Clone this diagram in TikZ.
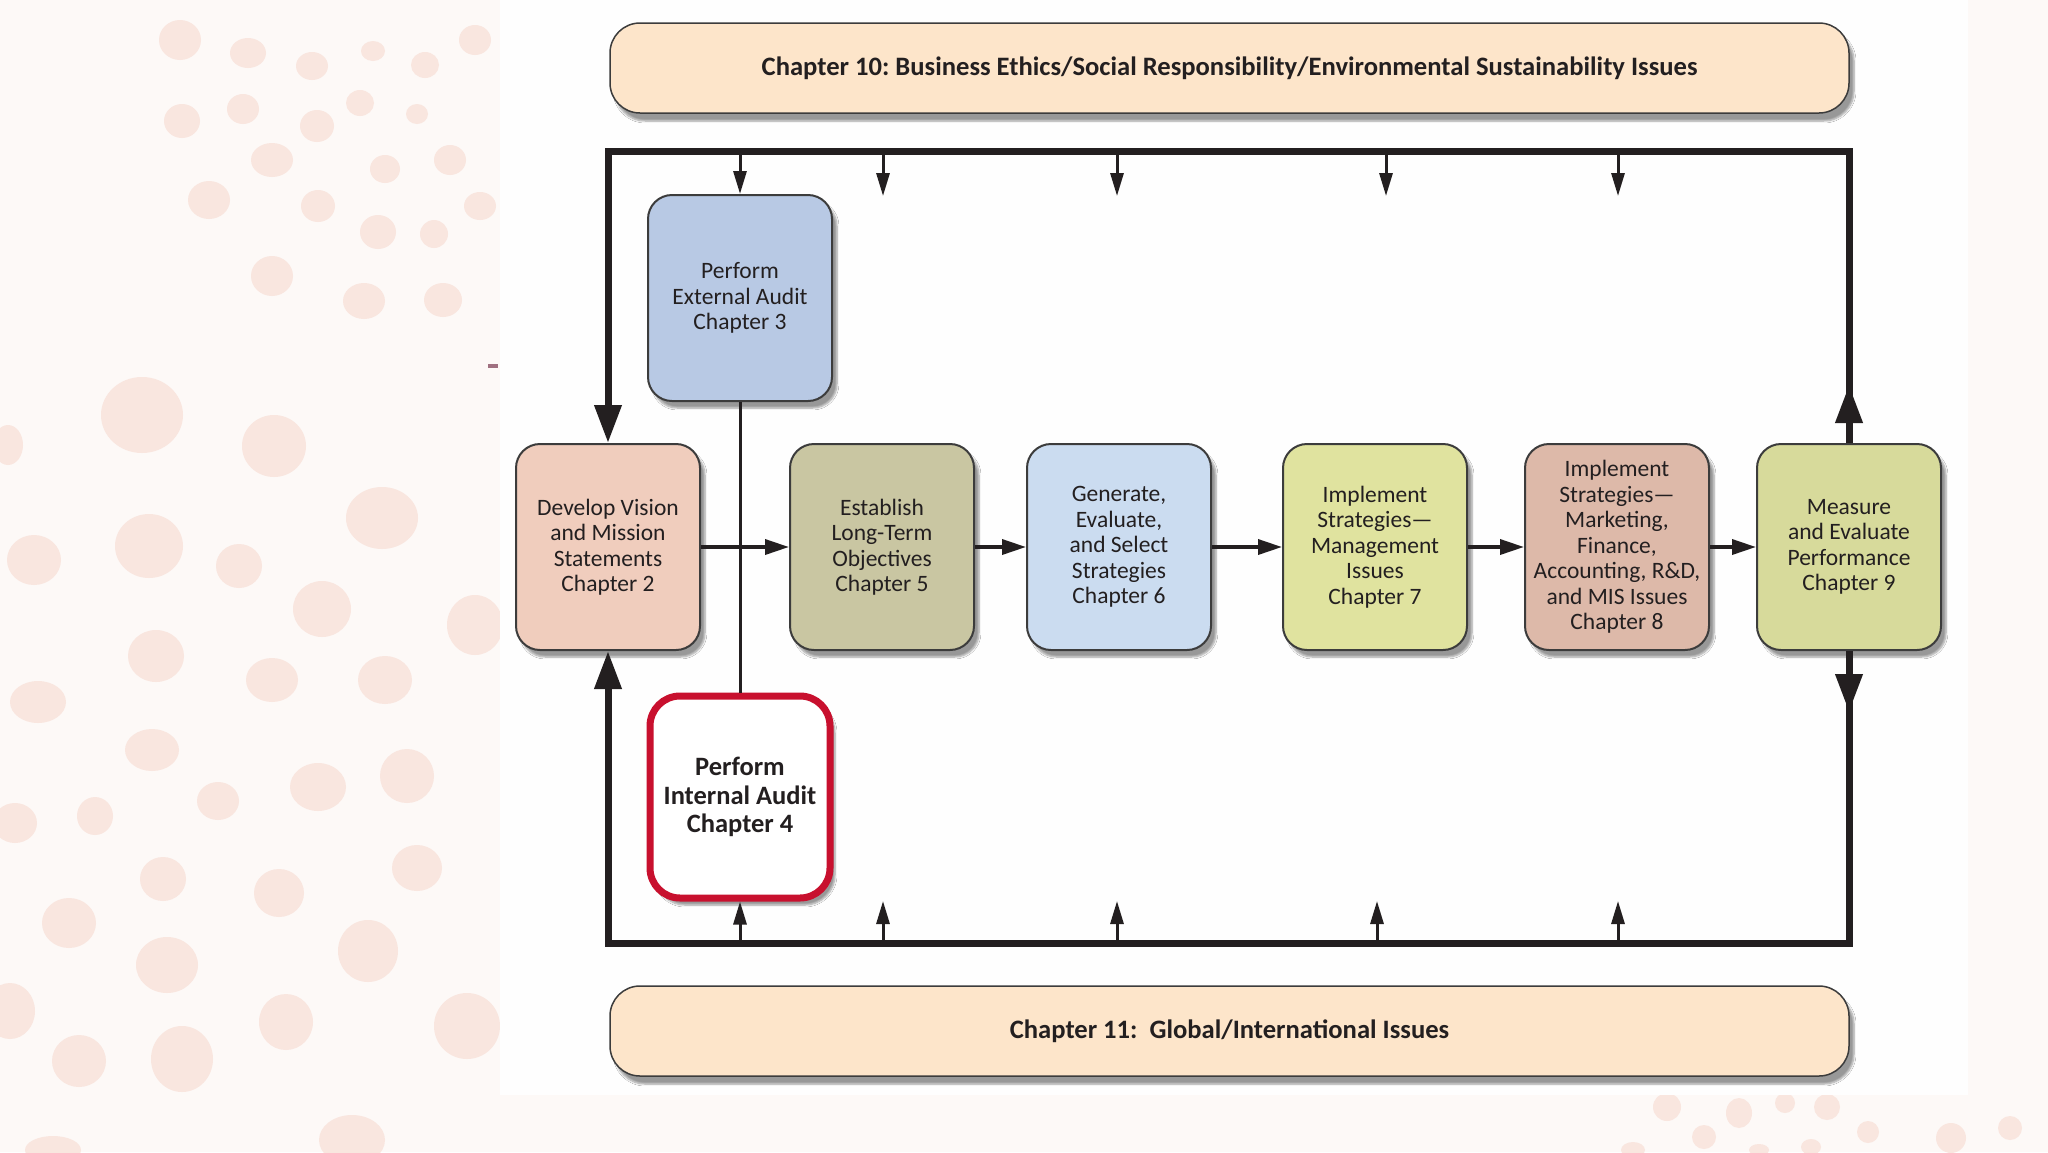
\documentclass[tikz,border=0pt]{standalone}
\usepackage{fontspec}
\setmainfont{Carlito}
\frenchspacing
\usetikzlibrary{arrows.meta,shadows.blur}
\definecolor{bgpink}{HTML}{FDF9F7}
\definecolor{dotpink}{HTML}{F9E6DF}
\definecolor{panel}{HTML}{FEFEFE}
\definecolor{peach}{HTML}{FDE5CA}
\definecolor{boxline}{HTML}{3C3C3C}
\definecolor{txt}{HTML}{231F20}
\definecolor{cVision}{HTML}{F0CDBD}
\definecolor{cExt}{HTML}{B8C9E4}
\definecolor{cObj}{HTML}{C9C6A2}
\definecolor{cGen}{HTML}{CBDCF0}
\definecolor{cMgmt}{HTML}{E0E39F}
\definecolor{cMkt}{HTML}{DDB9A9}
\definecolor{cEval}{HTML}{D7DA9B}
\definecolor{auditred}{HTML}{C8102E}
\definecolor{mauve}{HTML}{A07080}
\begin{document}
\begin{tikzpicture}[x=1pt,y=-1pt,
  stagebox/.style={draw=boxline, line width=2pt, rounded corners=24pt,
    minimum width=184pt, minimum height=206pt, inner sep=3pt, align=center,
    text=txt, font=\fontsize{23.5}{25.5}\selectfont,
    blur shadow={shadow xshift=5pt, shadow yshift=-7pt, shadow opacity=40, shadow blur steps=6}},
  banner/.style={draw=boxline, line width=1.5pt, fill=peach, rounded corners=30pt,
    minimum width=1239pt, minimum height=90pt, text=txt,
    font=\bfseries\fontsize{26.6}{30}\selectfont,
    blur shadow={shadow xshift=5pt, shadow yshift=-8pt, shadow opacity=40, shadow blur steps=6}},
  flow/.style={draw=txt, line width=3.5pt, -{Triangle[length=24pt,width=15pt]}},
  tick/.style={draw=txt, line width=3pt, -{Triangle[length=23pt,width=13pt]}},
  loopline/.style={draw=txt, line width=7pt, line join=miter},
  bigarrow/.style={draw=txt, line width=7pt, line join=miter, -{Triangle[length=38pt,width=26pt]}},
  link/.style={draw=txt, line width=3pt}
]
\useasboundingbox (0,0) rectangle (2048,1152);
% background
\fill[bgpink] (0,0) rectangle (2048,1152);
\foreach \px/\py/\rx/\ry in {180/40/21/20, 248/53/18/15, 312/66/16/14, 373/51/12/10, 425/65/14/13, 475/40/16/15,
  182/121/18/17, 243/109/16/15, 317/126/17/16, 360/103/14/13, 417/114/11/10, 272/160/21/17, 385/169/15/14,
  450/160/16/15, 209/200/21/19, 318/206/17/16, 378/232/18/17, 434/234/14/14, 480/206/16/14, 272/276/21/20,
  364/301/21/18, 443/300/19/17, 142/415/41/38, 8/445/15/20, 274/446/32/31, 382/518/36/31, 149/546/34/32,
  34/560/27/25, 239/566/23/22, 322/609/29/28, 475/625/28/30, 156/656/28/26, 272/680/26/22, 385/680/27/24,
  38/702/28/21, 152/750/27/21, 318/787/28/24, 407/776/27/27, 218/801/21/19, 95/816/18/19, 15/823/22/20,
  163/879/23/22, 279/893/25/24, 417/868/25/23, 69/923/27/25, 368/951/30/31, 167/965/31/28, 10/1011/25/28,
  286/1022/27/28, 467/1026/33/33, 79/1061/27/26, 182/1059/31/33, 352/1140/33/25, 53/1150/28/14,
  1667/1107/14/14, 1739/1113/13/15, 1785/1103/10/10, 1827/1107/13/13, 1704/1137/12/12, 1868/1132/11/11,
  1951/1138/15/15, 1811/1147/10/8, 1633/1150/12/8, 1759/1150/10/6, 2010/1128/12/12}
  \fill[dotpink] (\px,\py) ellipse [x radius=\rx pt, y radius=\ry pt];
\fill[panel] (500,0) rectangle (1968,1095);
\fill[mauve] (488,364) rectangle (498,368);

% banners
\node[banner] (ethics) at (1229.5,68) {Chapter 10: Business Ethics/Social Responsibility/Environmental Sustainability Issues};
\node[banner] (global) at (1229.5,1031) {Chapter 11:\ \ Global/International Issues};

% loop corners
\coordinate (TL) at (608,151);
\coordinate (TR) at (1849,151);
\coordinate (BL) at (608,943);
\coordinate (BR) at (1849,943);

% stage boxes
\node[stagebox, fill=cVision] (vision) at (608,547) {Develop Vision\\and Mission\\Statements\\Chapter 2};
\node[stagebox, fill=cExt] (ext) at (740,298) {Perform\\External Audit\\Chapter 3};
\node[stagebox, fill=cObj] (obj) at (882,547) {Establish\\Long-Term\\Objectives\\Chapter 5};
\node[stagebox, fill=cGen] (gen) at (1119,547) {Generate,\\Evaluate,\\and Select\\Strategies\\Chapter 6};
\node[stagebox, fill=cMgmt] (mgmt) at (1375,547) {Implement\\Strategies—\\Management\\Issues\\Chapter 7};
\node[stagebox, fill=cMkt] (mkt) at (1617,547) {Implement\\Strategies—\\Marketing,\\Finance,\\Accounting, R\&D,\\and MIS Issues\\Chapter 8};
\node[stagebox, fill=cEval] (eval) at (1849,547) {Measure\\and Evaluate\\Performance\\Chapter 9};
\node[stagebox, fill=white, draw=auditred, line width=7pt, rounded corners=30pt,
  minimum width=180pt, minimum height=202pt, font=\bfseries\fontsize{26.5}{28.5}\selectfont] (int) at (740,797) {Perform\\Internal Audit\\Chapter 4};

% audit link
\draw[link] (ext.south) -- (int.north);

% flow arrows
\draw[flow] (vision.east) -- (obj.west);
\draw[flow] (obj.east) -- (gen.west);
\draw[flow] (gen.east) -- (mgmt.west);
\draw[flow] (mgmt.east) -- (mkt.west);
\draw[flow] (mkt.east) -- (eval.west);

% feedback loop
\draw[bigarrow] (eval.north) -- (TR) -- (TL) -- (vision.north);
\draw[bigarrow] (eval.south) -- (BR) -- (BL) -- (vision.south);
\coordinate (upTip) at (1849,385);
\coordinate (downTip) at (1849,712);
\draw[bigarrow] (eval.north) -- (upTip);
\draw[bigarrow] (eval.south) -- (downTip);

% top ticks
\coordinate (ts1) at (740,151);
\draw[tick] (ts1) -- (ext.north);
\foreach \tx [count=\i] in {883,1117,1386,1618} {
  \coordinate (ta\i) at (\tx,151);
  \coordinate (tb\i) at (\tx,196);
  \draw[tick] (ta\i) -- (tb\i);
}
% bottom ticks
\coordinate (bs1) at (740,943);
\draw[tick] (bs1) -- (int.south);
\foreach \tx [count=\i] in {883,1117,1377,1618} {
  \coordinate (ba\i) at (\tx,943);
  \coordinate (bb\i) at (\tx,901);
  \draw[tick] (ba\i) -- (bb\i);
}
\end{tikzpicture}
\end{document}
